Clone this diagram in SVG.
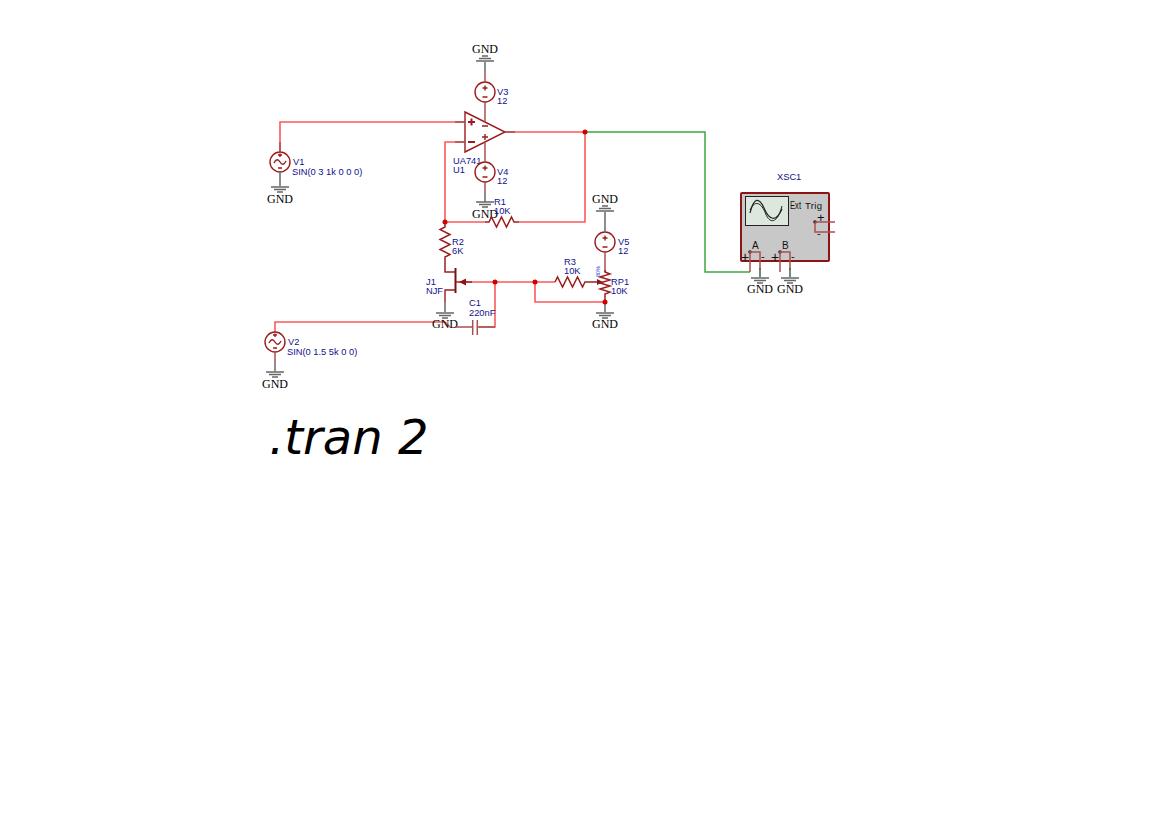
<svg xmlns="http://www.w3.org/2000/svg" width="1169" height="828" viewBox="0 0 1169 828">
<style>
.w{fill:none;stroke:#fa5a5a;stroke-width:1.6}
.g{fill:none;stroke:#3fa63f;stroke-width:1.5}
.p{fill:none;stroke:#a85050;stroke-width:1.5}
.z{fill:none;stroke:#9c2020;stroke-width:1.5}
.s{fill:none;stroke:#9c1c1c;stroke-width:1.4}
.k{fill:none;stroke:#666;stroke-width:1.5}
.l{font:9.300px "Liberation Sans",Arial,sans-serif;fill:#10108c}
.t{font:12px "Liberation Serif","Times New Roman",serif;fill:#000;text-anchor:middle}
.b{font:11px "Liberation Sans",Arial,sans-serif;fill:#111}
.d{fill:#d00000}
</style>
<defs>
<g id="gnd"><path class="k" d="M-9 1H9M-6 3.500H6M-3 6H3"/></g>
<g id="gndu"><path class="k" d="M-9 -1H9M-6 -3.500H6M-3 -6H3"/></g>
</defs>
<g id="connectors">
<path class="w" d="M280 152V122H465"/>
<path class="w" d="M465 142H445V222H485"/>
<path class="w" d="M505 132H585V222H519"/>
<path class="g" d="M585 132H705V272H750"/>
<path class="w" d="M275 332V322H445L450 327"/>
<path class="w" d="M495 282V327H479"/>
<path class="w" d="M465 282H555"/>
<path class="w" d="M535 282V302H605"/>
</g>
<g id="V3">
<circle class="s" cx="485" cy="92" r="10"/>
<path class="p" d="M485 82V72M485 102V112"/>
<path class="k" d="M485 72V62"/><use href="#gndu" x="485" y="62"/>
<path class="s" d="M482.500 88H487.500M485 85.500V90.500M482.500 97H487.500"/>
<text class="l" x="497" y="95">V3</text><text class="l" x="497" y="104">12</text>
<text class="t" x="485" y="53">GND</text>
</g>
<g id="U1">
<path class="s" d="M465 112L505 132L465 152Z"/>
<path class="p" d="M505 132H515M455 122H465M455 142H465M485 112V122M485 142V152"/>
<path d="M468 122H475M471.500 118.500V125.500M468 142H475" fill="none" stroke="#9c1c1c" stroke-width="2"/>
<path class="s" d="M482 126H488M482 137H488M485 134V140"/>
<text class="l" x="453" y="164">UA741</text><text class="l" x="453" y="173">U1</text>
</g>
<g id="V4">
<circle class="s" cx="485" cy="172" r="10"/>
<path class="p" d="M485 152V162M485 182V192"/>
<path class="k" d="M485 192V202"/><use href="#gnd" x="485" y="201"/>
<path class="s" d="M482.500 168H487.500M485 165.500V170.500M482.500 177H487.500"/>
<text class="l" x="497" y="175">V4</text><text class="l" x="497" y="184">12</text>
<text class="t" x="485" y="218">GND</text>
</g>
<g id="V1">
<circle class="s" cx="280" cy="162" r="10"/>
<path class="p" d="M280 142V152"/><path class="k" d="M280 172V186"/><use href="#gnd" x="280" y="186"/>
<path class="s" d="M274 163Q277 157 280 162T286 161M278 155H282M280 153.500V157M278 168H282"/>
<text class="l" x="293" y="165">V1</text><text class="l" x="292" y="175">SIN(0 3 1k 0 0 0)</text>
<text class="t" x="280" y="203">GND</text>
</g>
<g id="V2">
<circle class="s" cx="275" cy="342" r="10"/>
<path class="p" d="M275 352V362"/><path class="k" d="M275 362V371"/><use href="#gnd" x="275" y="371"/>
<path class="s" d="M269 343Q272 337 275 342T281 341M273 335H277M275 333.500V337M273 348H277"/>
<text class="l" x="288" y="345">V2</text><text class="l" x="287" y="355">SIN(0 1.5 5k 0 0)</text>
<text class="t" x="275" y="388">GND</text>
</g>
<g id="R1">
<path class="z" d="M485 222H489L491.500 217L496.500 227L501.500 217L506.500 227L511.500 217L514 222H519"/>
<text class="l" x="494" y="205">R1</text><text class="l" x="494" y="214">10K</text>
</g>
<g id="R2">
<path class="z" d="M445 222V227L440 229.500L450 234.500L440 239.500L450 244.500L440 249.500L450 254.500L445 257V272H455"/>
<text class="l" x="452" y="245">R2</text><text class="l" x="452" y="254">6K</text>
</g>
<g id="J1">
<path d="M455.500 268V293" fill="none" stroke="#7a1010" stroke-width="2"/>
<path class="s" d="M455 290H445V302"/>
<path class="s" d="M456 282H472"/>
<path d="M459 282L466 278.500V285.500Z" fill="#8c1414"/>
<path class="k" d="M445 302V312"/><use href="#gnd" x="445" y="312"/>
<text class="l" x="426" y="285">J1</text><text class="l" x="426" y="294">NJF</text>
<text class="t" x="445" y="328">GND</text>
</g>
<g id="C1">
<path class="p" d="M455 327H473M477 327H495"/>
<path class="p" d="M472.700 320V335M477.300 320V335"/>
<text class="l" x="469" y="306">C1</text><text class="l" x="469" y="316">220nF</text>
</g>
<g id="R3">
<path class="z" d="M555 282L557.500 277L562.500 287L567.500 277L572.500 287L577.500 277L582.500 287L585 282H598"/>
<path d="M603 282L597 279V285Z" fill="#8c1414"/>
<text class="l" x="564" y="265">R3</text><text class="l" x="564" y="274">10K</text>
</g>
<g id="V5">
<circle class="s" cx="605" cy="242" r="10"/>
<path class="p" d="M605 252V272"/>
<path class="k" d="M605 232V212"/><use href="#gndu" x="605" y="212"/>
<path class="s" d="M602.500 238H607.500M605 235.500V240.500M602.500 247H607.500"/>
<text class="l" x="618" y="245">V5</text><text class="l" x="618" y="254">12</text>
<text class="t" x="605" y="203">GND</text>
</g>
<g id="RP1">
<path class="z" d="M605 270V272L610 274L600 277L610 280L600 283L610 286L600 289L610 292L605 294V302"/>
<text font-family="Liberation Sans,sans-serif" font-size="5.500" fill="#2a3cd8" transform="translate(599.500 277) rotate(-90)">80%</text>
<text class="l" x="611" y="285">RP1</text><text class="l" x="611" y="294">10K</text>
<path class="k" d="M605 302V312"/><use href="#gnd" x="605" y="312"/>
<text class="t" x="605" y="328">GND</text>
</g>
<g id="XSC1">
<text class="l" x="777" y="180">XSC1</text>
<rect x="741" y="193" width="88" height="68" rx="1" fill="#c8c8c8" stroke="#8c1414" stroke-width="2"/>
<rect x="745.500" y="196.500" width="43" height="29" fill="#dde8dd" stroke="#222" stroke-width="1"/>
<path d="M750 213C754 197 759 197 764 208C769 220 776 223 782 209" fill="none" stroke="#222" stroke-width="1.200"/>
<path d="M750 210C754 201 760 201 765 212C769 224 777 225 782 206" fill="none" stroke="#222" stroke-width="1"/>
<text class="b" x="790" y="209" textLength="11" lengthAdjust="spacingAndGlyphs" style="font-size:10px">Ext</text>
<text class="b" x="805" y="209" textLength="17" style="font-size:9.500px">Trig</text>
<text class="b" x="817" y="222" style="font-size:13px">+</text>
<text class="b" x="817" y="237" style="font-size:11px">-</text>
<circle cx="815" cy="222" r="1.800" fill="#222"/>
<path class="p" d="M815 222H835M815 222V232H835"/>
<text class="b" x="752" y="249" style="font-size:10px">A</text>
<text class="b" x="782" y="249" style="font-size:10px">B</text>
<text class="b" x="741" y="262" style="font-size:14px">+</text>
<text class="b" x="771" y="262" style="font-size:14px">+</text>
<text class="b" x="761" y="260" style="font-size:11px">-</text>
<text class="b" x="791" y="260" style="font-size:11px">-</text>
<circle cx="750" cy="252" r="1.800" fill="#222"/><circle cx="780" cy="252" r="1.800" fill="#222"/>
<path class="p" d="M750 272V252H760V270M780 272V252H790V270"/>
<path d="M760 268V277M790 268V277" fill="none" stroke="#3d6e3d" stroke-width="1.500"/>
<use href="#gnd" x="760" y="277"/><use href="#gnd" x="790" y="277"/>
<text class="t" x="760" y="293">GND</text><text class="t" x="790" y="293">GND</text>
</g>
<g id="junctions">
<circle class="d" cx="585" cy="132" r="2.500"/><circle class="d" cx="445" cy="222" r="2.500"/>
<circle class="d" cx="495" cy="282" r="2.500"/><circle class="d" cx="535" cy="282" r="2.500"/>
<circle class="d" cx="605" cy="302" r="2.500"/>
</g>
<text x="269" y="454" font-family="DejaVu Sans,sans-serif" font-style="oblique" font-size="48" fill="#000">.tran 2</text>
</svg>
